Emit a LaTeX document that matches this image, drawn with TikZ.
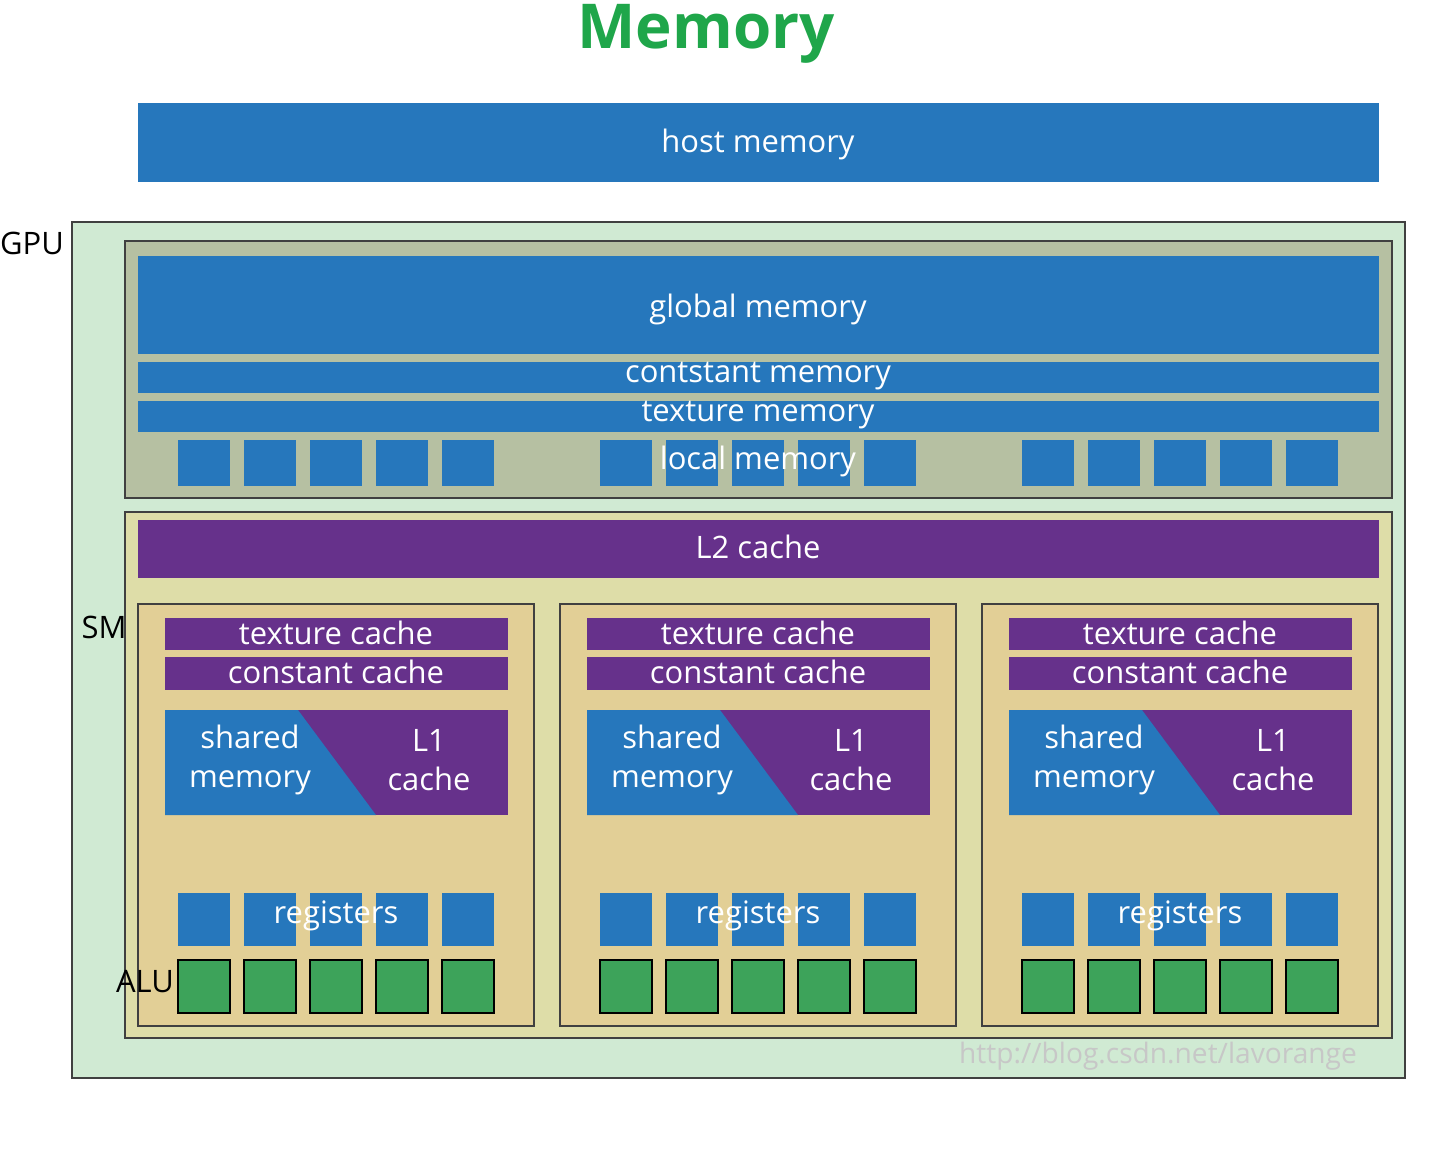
\documentclass[tikz,border=0pt]{standalone}
\usepackage{fontspec}
\setmainfont{Open Sans}
\usetikzlibrary{positioning}
\definecolor{memblue}{HTML}{2677BC}
\definecolor{cachepurple}{HTML}{66318B}
\definecolor{alugreen}{HTML}{3DA35A}
\definecolor{gpugreen}{HTML}{D0EAD3}
\definecolor{globgray}{HTML}{B6C0A2}
\definecolor{smouter}{HTML}{DEDDA8}
\definecolor{smtan}{HTML}{E2CF96}
\definecolor{titlegreen}{HTML}{1FA64A}
\tikzset{
  lbl/.style={text=white, font=\fontsize{22}{24}\selectfont},
  blk/.style={fill=memblue, draw=none},
  cch/.style={fill=cachepurple, draw=none},
  box/.style={draw=black!75, line width=0.8pt},
  alu/.style={fill=alugreen, draw=black, line width=0.8pt},
}
\begin{document}
\begin{tikzpicture}[x=0.025cm, y=-0.025cm]
	\useasboundingbox (0,0) rectangle (1444,1150);
	\node[font=\bfseries\fontsize{44}{48}\selectfont, text=titlegreen] (title) at (706,34) {Memory};
	% host
	\fill[memblue] (138,103) rectangle (1379,182);
	\node[lbl] (host) at (758,144) {host memory};
	% gpu
	\draw[box, fill=gpugreen] (72,222) rectangle (1405,1078);
	\node[font=\fontsize{22}{24}\selectfont] (gpu) at (32,243) {GPU};
	\draw[box, fill=globgray] (125,241) rectangle (1392,498);
	\fill[memblue] (138,256) rectangle (1379,354);
	\node[lbl] (global) at (758,309) {global memory};
	\fill[memblue] (138,362) rectangle (1379,393);
	\node[lbl] (const) at (758,376) {contstant memory};
	\fill[memblue] (138,401) rectangle (1379,432);
	\node[lbl] (tex) at (758,415) {texture memory};
	\foreach \g in {178,600,1022}
		\foreach \i in {0,...,4}
			\fill[memblue] (\g+66*\i,440) rectangle +(52,46);
	\node[lbl] (local) at (758,461) {local memory};
	% sm
	\draw[box, fill=smouter] (125,512) rectangle (1392,1038);
	\fill[cachepurple] (138,520) rectangle (1379,578);
	\node[lbl] (l2) at (758,547) {L2 cache};
	\node[font=\fontsize{22}{24}\selectfont] (sm) at (104,627) {SM};
	\foreach \s in {0,422,844}{
		\begin{scope}[xshift=\s*0.025cm]
			\draw[box, fill=smtan] (138,604) rectangle (534,1026);
			\fill[cachepurple] (165,618) rectangle (508,650);
			\node[lbl] at (336,633) {texture cache};
			\fill[cachepurple] (165,657) rectangle (508,690);
			\node[lbl] at (336,672) {constant cache};
			\fill[cachepurple] (165,710) rectangle (508,815);
			\fill[memblue] (165,710) -- (298,710) -- (376,815) -- (165,815) -- cycle;
			\node[lbl, align=center] at (250,760) {shared\\[4pt]memory};
			\node[lbl, align=center] at (429,760) {L1\\[4pt]cache};
			\foreach \i in {0,...,4}{
				\fill[memblue] (178+66*\i,893) rectangle +(52,53);
				\draw[alu] (178+66*\i,960) rectangle +(52,53);
			}
			\node[lbl] at (336,916) {registers};
		\end{scope}
	}
	\node[font=\fontsize{22}{24}\selectfont] (alulbl) at (145,982) {ALU};
	\node[text=black!22, font=\rmfamily\fontsize{20}{22}\selectfont] (wm) at (1158,1056) {http://blog.csdn.net/lavorange};
\end{tikzpicture}
\end{document}
